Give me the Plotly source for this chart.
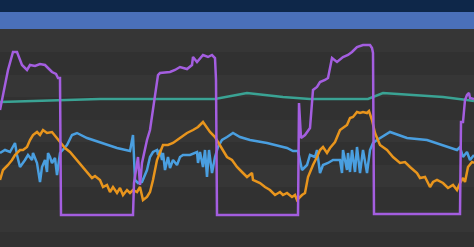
import plotly.graph_objects as go

# ---- data (x = time index, y = level; axis reversed) ----
purple_x = [0, 4, 8, 13, 17, 22, 27, 30, 35, 40, 45, 48, 52, 56, 58, 60, 61, 133, 134, 138, 140, 142, 147, 150, 154, 158, 160, 170, 175, 180, 187, 192, 193, 197, 203, 208, 212, 215, 216, 217, 298, 299, 301, 305, 310, 313, 317, 320, 325, 328, 332, 337, 343, 348, 352, 357, 363, 370, 372, 373, 374, 460, 461, 463, 465, 467, 469, 470, 474]
purple_y = [110, 90, 70, 52, 52, 65, 70, 65, 66, 64, 65, 68, 72, 74, 78, 78, 215, 215, 183, 157, 185, 163, 140, 130, 100, 75, 73, 72, 70, 67, 69, 65, 57, 62, 55, 57, 55, 58, 80, 215, 215, 103, 138, 135, 128, 90, 87, 82, 80, 78, 58, 62, 57, 55, 52, 47, 45, 45, 48, 53, 214, 214, 122, 122, 100, 95, 93, 98, 99]

teal_x = [0, 30, 60, 100, 150, 215, 247, 283, 310, 368, 383, 410, 443, 467, 474]
teal_y = [102, 101, 100, 99, 99, 99, 93, 97, 99, 99, 93, 95, 97, 100, 101]

blue_x = [0, 5, 10, 13, 15, 17, 20, 25, 28, 32, 33, 37, 40, 42, 45, 47, 48, 50, 52, 55, 57, 60, 63, 67, 72, 77, 87, 100, 117, 130, 133, 135, 138, 142, 147, 150, 153, 157, 158, 160, 162, 163, 165, 168, 170, 173, 177, 180, 183, 190, 197, 198, 200, 203, 205, 207, 209, 212, 215, 218, 222, 227, 233, 240, 250, 267, 287, 293, 298, 302, 307, 310, 315, 317, 320, 323, 328, 333, 340, 342, 343, 347, 348, 350, 352, 355, 357, 360, 363, 367, 370, 373, 377, 390, 407, 427, 457, 460, 463, 467, 470, 474]
blue_y = [153, 150, 152, 147, 143, 155, 167, 160, 155, 160, 153, 163, 182, 167, 160, 172, 153, 157, 163, 158, 175, 153, 150, 145, 135, 133, 138, 142, 148, 151, 135, 180, 183, 182, 170, 157, 152, 150, 155, 150, 160, 153, 170, 157, 168, 160, 165, 157, 155, 155, 152, 163, 152, 167, 150, 177, 150, 173, 157, 147, 140, 137, 133, 137, 140, 143, 148, 151, 151, 170, 165, 155, 157, 150, 173, 165, 163, 160, 160, 173, 150, 170, 153, 172, 150, 172, 147, 173, 150, 173, 150, 143, 140, 132, 138, 140, 150, 147, 157, 152, 160, 155]

orange_x = [0, 3, 8, 12, 15, 20, 23, 27, 30, 33, 37, 40, 43, 47, 52, 57, 60, 65, 70, 75, 82, 87, 92, 95, 100, 103, 107, 110, 113, 117, 120, 123, 127, 130, 133, 137, 140, 143, 147, 150, 153, 157, 160, 163, 168, 173, 180, 187, 193, 198, 203, 207, 210, 215, 220, 227, 232, 237, 242, 247, 252, 253, 260, 265, 270, 275, 280, 283, 287, 292, 295, 297, 302, 305, 308, 310, 313, 317, 320, 323, 327, 330, 335, 340, 343, 347, 350, 353, 357, 360, 363, 367, 369, 372, 375, 380, 387, 393, 400, 405, 410, 417, 420, 425, 430, 433, 437, 443, 448, 453, 457, 460, 463, 465, 468, 472, 474]
orange_y = [180, 170, 165, 160, 155, 150, 150, 147, 140, 135, 132, 135, 130, 133, 132, 138, 142, 148, 152, 158, 167, 172, 178, 176, 180, 187, 185, 192, 187, 193, 188, 195, 190, 193, 190, 192, 187, 200, 197, 192, 180, 160, 153, 145, 145, 143, 138, 133, 130, 127, 122, 128, 132, 137, 145, 157, 160, 167, 172, 177, 173, 180, 183, 187, 190, 195, 192, 195, 193, 197, 195, 200, 195, 193, 177, 172, 165, 157, 150, 147, 153, 148, 142, 130, 128, 125, 118, 117, 112, 113, 112, 113, 111, 120, 133, 145, 150, 157, 163, 162, 167, 173, 178, 177, 187, 182, 180, 183, 188, 185, 190, 183, 178, 182, 167, 162, 163]

# ---- style ----
BG = "#333333"
stripe_edges = [29, 52, 75, 97, 120, 142, 165, 187, 210, 232, 247]
stripe_cols = ["#363636", "#313131"]

fig = go.Figure()
series = [
    (teal_x, teal_y, "#3aa394"),
    (blue_x, blue_y, "#4a9fe0"),
    (orange_x, orange_y, "#e8951d"),
    (purple_x, purple_y, "#a45ee0"),
]
for xs, ys, c in series:
    fig.add_trace(go.Scatter(x=xs, y=ys, mode="lines",
                             line=dict(color=c, width=2.5), hoverinfo="skip",
                             showlegend=False))

shapes = []
for i in range(len(stripe_edges) - 1):
    shapes.append(dict(type="rect", xref="paper", yref="y", x0=0, x1=1,
                       y0=stripe_edges[i], y1=stripe_edges[i + 1],
                       fillcolor=stripe_cols[i % 2], line=dict(width=0), layer="below"))
shapes.append(dict(type="rect", xref="paper", yref="y", x0=0, x1=1, y0=0, y1=12,
                   fillcolor="#0e2749", line=dict(width=0), layer="above"))
shapes.append(dict(type="rect", xref="paper", yref="y", x0=0, x1=1, y0=12, y1=29,
                   fillcolor="#4a70b9", line=dict(width=0), layer="above"))

fig.update_layout(
    width=474, height=247,
    margin=dict(l=0, r=0, t=0, b=0),
    paper_bgcolor=BG, plot_bgcolor=BG,
    shapes=shapes,
    xaxis=dict(range=[0, 474], visible=False, fixedrange=True),
    yaxis=dict(range=[247, 0], visible=False, fixedrange=True),
)
fig.write_html("out.html", config={"displayModeBar": False})
